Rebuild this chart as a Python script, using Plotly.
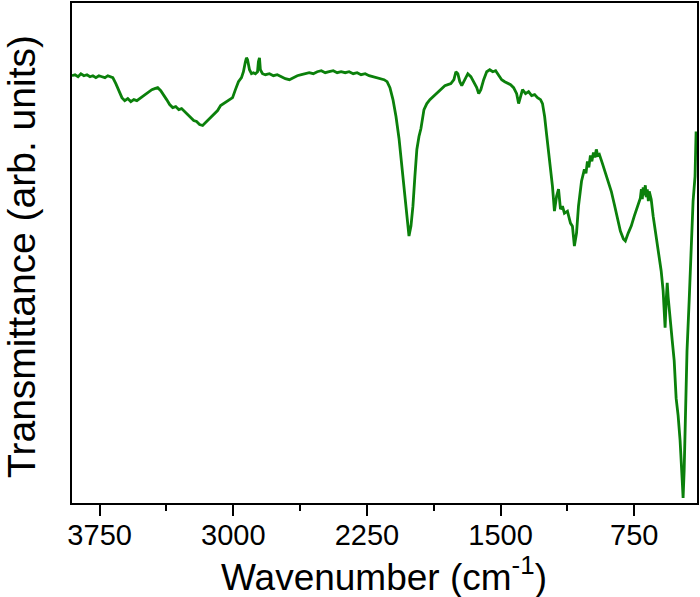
import plotly.graph_objects as go

# Wavenumber (cm^-1) and transmittance (arb. units)
wavenumber = [
    3905, 3888, 3871, 3855, 3838, 3821, 3804, 3788, 3771, 3754, 3737, 3720, 3704, 3687, 3676,
    3659, 3642, 3625, 3609, 3592, 3575, 3558, 3541, 3525, 3508, 3491, 3474, 3457, 3441, 3424,
    3407, 3390, 3374, 3357, 3340, 3323, 3306, 3290, 3273, 3256, 3239, 3222, 3206, 3189, 3172,
    3155, 3139, 3122, 3105, 3088, 3071, 3055, 3038, 3021, 3004, 2988, 2971, 2954, 2943, 2932,
    2926, 2920, 2909, 2898, 2887, 2876, 2864, 2859, 2853, 2848, 2836, 2820, 2797, 2775, 2753,
    2730, 2708, 2685, 2663, 2641, 2618, 2596, 2574, 2551, 2529, 2506, 2484, 2462, 2439, 2417,
    2395, 2372, 2350, 2327, 2305, 2283, 2260, 2238, 2216, 2193, 2171, 2154, 2137, 2121, 2104,
    2087, 2070, 2053, 2037, 2025, 2014, 2003, 1992, 1981, 1970, 1958, 1947, 1930, 1914, 1897,
    1880, 1863, 1846, 1830, 1813, 1796, 1779, 1762, 1751, 1740, 1729, 1718, 1701, 1684, 1667,
    1651, 1634, 1623, 1611, 1595, 1578, 1561, 1544, 1528, 1511, 1494, 1477, 1460, 1444, 1427,
    1410, 1399, 1388, 1377, 1360, 1343, 1326, 1309, 1293, 1276, 1265, 1253, 1242, 1231, 1220,
    1209, 1198, 1186, 1175, 1164, 1153, 1142, 1125, 1108, 1097, 1086, 1074, 1063, 1046, 1030,
    1021, 1013, 1005, 996, 988, 979, 971, 963, 955, 946, 929, 912, 895, 879, 862,
    845, 828, 811, 800, 784, 767, 750, 733, 716, 710, 705, 700, 694, 688, 683,
    677, 671, 666, 655, 644, 632, 621, 610, 599, 588, 577, 571, 565, 560, 549,
    537, 526, 515, 504, 493, 481, 476, 470, 465, 454, 442, 431, 420, 409, 403,
]

transmittance = [
    429, 430, 428, 431, 429, 430, 428, 429, 427, 429, 428, 427, 429, 428, 427,
    421, 413, 407, 404, 406, 403, 405, 404, 406, 408, 411, 413, 415, 416, 417,
    414, 410, 405, 400, 397, 398, 395, 396, 393, 390, 386, 384, 383, 380, 379,
    382, 384, 387, 390, 394, 399, 401, 403, 405, 407, 415, 423, 427, 433, 443,
    447, 445, 435, 431, 432, 431, 433, 443, 447, 435, 431, 430, 431, 429, 430,
    428, 426, 425, 427, 429, 430, 431, 432, 431, 433, 434, 432, 433, 434, 432,
    433, 432, 433, 431, 432, 430, 431, 429, 428, 427, 426, 425, 423, 417, 405,
    388, 366, 338, 308, 288, 268, 278, 298, 328, 355, 368, 376, 395, 401, 405,
    408, 411, 414, 417, 419, 420, 421, 425, 433, 431, 423, 419, 425, 431, 428,
    423, 417, 411, 415, 425, 433, 435, 433, 434, 430, 425, 423, 421, 420, 417,
    411, 401, 408, 415, 411, 413, 409, 410, 407, 405, 401, 388, 370, 353, 338,
    318, 293, 308, 315, 295, 298, 291, 293, 281, 278, 258, 271, 298, 323, 335,
    331, 343, 337, 349, 343, 352, 347, 355, 349, 350, 341, 331, 323, 313, 300,
    285, 273, 265, 263, 271, 278, 288, 298, 306, 315, 305, 317, 309, 319, 307,
    315, 303, 313, 305, 288, 273, 258, 245, 233, 213, 176, 203, 221, 207, 183,
    163, 143, 105, 88, 63, 23, 5, 33, 83, 153, 203, 263, 303, 328, 373,
]

x_ticks = [750, 1500, 2250, 3000, 3750]
x_minor_ticks = [1125, 1875, 2625, 3375]

fig = go.Figure()
fig.add_trace(go.Scatter(
    x=wavenumber, y=transmittance, mode="lines",
    line=dict(color="#0b800b", width=2.8),
    showlegend=False, hoverinfo="skip",
))

fig.update_layout(
    width=700, height=597,
    margin=dict(l=72, r=1, t=1, b=94),
    paper_bgcolor="white", plot_bgcolor="white",
    font=dict(family="Liberation Sans, Arial, sans-serif", color="black"),
    xaxis=dict(
        range=[3905, 398], showgrid=False, zeroline=False,
        showline=True, mirror=True, linecolor="black", linewidth=2,
        tickmode="array", tickvals=x_ticks, ticktext=[str(v) for v in x_ticks],
        ticks="outside", ticklen=11, tickwidth=2, tickcolor="black",
        tickfont=dict(size=29, color="black"), ticklabelstandoff=-6,
        minor=dict(tickmode="array", tickvals=x_minor_ticks,
                   ticks="outside", ticklen=6, tickwidth=2, tickcolor="black"),
    ),
    yaxis=dict(
        range=[0, 502], showgrid=False, zeroline=False,
        showline=True, mirror=True, linecolor="black", linewidth=2,
        showticklabels=False, ticks="",
    ),
    annotations=[
        dict(text="Wavenumber (cm<sup>-1</sup>)", xref="paper", yref="paper",
             x=0.499, y=-0.142, xanchor="center", yanchor="middle",
             showarrow=False, font=dict(size=37, color="black")),
        dict(text="Transmittance (arb. units)", xref="paper", yref="paper",
             x=-0.081, y=0.493, xanchor="center", yanchor="middle", textangle=-90,
             showarrow=False, font=dict(size=39, color="black")),
    ],
)

fig.write_html("out.html", config={"displayModeBar": False},
               post_script="document.body.style.margin='0';")
